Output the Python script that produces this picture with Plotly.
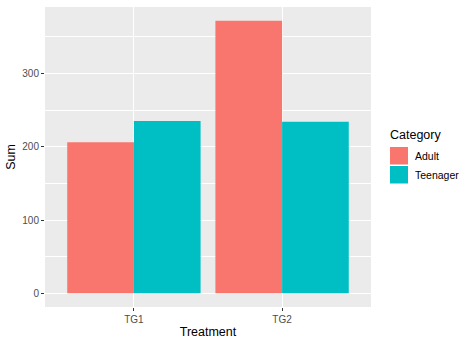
import plotly.graph_objects as go

treatments = ["TG1", "TG2"]
categories = ["Adult", "Teenager"]
adult_sum = [206, 372]
teen_sum = [235, 234]
colors = {"Adult": "#F8766D", "Teenager": "#00BFC4"}
y_ticks = [0, 100, 200, 300]

W, H = 474, 343
ML, MR, MT, MB = 45, 103, 7, 36
PW, PH = W - ML - MR, H - MT - MB

fig = go.Figure()
for cat, vals in zip(categories, [adult_sum, teen_sum]):
    fig.add_trace(go.Bar(x=treatments, y=vals, name=cat,
                         marker=dict(color=colors[cat], line=dict(width=0)),
                         showlegend=False))

ymax = max(adult_sum + teen_sum)
pad = ymax * 0.05
fig.update_layout(
    width=W, height=H,
    margin=dict(l=ML, r=MR, t=MT, b=MB, pad=0),
    paper_bgcolor="white", plot_bgcolor="#EBEBEB",
    barmode="group", bargap=0.1, bargroupgap=0,
    font=dict(family="Liberation Sans, Arial, sans-serif", color="black"),
    xaxis=dict(range=[-0.6, 1.6], showgrid=True, gridcolor="white", gridwidth=1.1,
               ticks="outside", ticklen=3, tickcolor="#333333", tickwidth=1,
               tickfont=dict(size=10, color="#4D4D4D"), zeroline=False, showline=False,
               title=dict(text="Treatment", font=dict(size=12.5), standoff=3)),
    yaxis=dict(range=[-pad, ymax + pad], tickvals=y_ticks, showgrid=True,
               gridcolor="white", gridwidth=1.1,
               minor=dict(dtick=50, tick0=0, showgrid=True, gridcolor="white", gridwidth=0.5, ticks=""),
               ticks="outside", ticklen=3, tickcolor="#333333", tickwidth=1,
               tickfont=dict(size=10, color="#4D4D4D"), zeroline=False, showline=False,
               title=dict(text="Sum", font=dict(size=12.5), standoff=3)),
)

# custom ggplot-style legend
def px_x(px):
    return (px - ML) / PW

def px_y(py):
    return 1 - (py - MT) / PH

fig.add_annotation(xref="paper", yref="paper", x=px_x(388), y=px_y(135), text="Category",
                   showarrow=False, xanchor="left", yanchor="middle",
                   font=dict(size=12.5, color="black"))
for i, cat in enumerate(categories):
    top = 147 + i * 19
    fig.add_shape(type="rect", xref="paper", yref="paper",
                  x0=px_x(390), x1=px_x(408), y0=px_y(top), y1=px_y(top + 17.5),
                  fillcolor=colors[cat], line=dict(width=0))
    fig.add_annotation(xref="paper", yref="paper", x=px_x(413), y=px_y(top + 9), text=cat,
                       showarrow=False, xanchor="left", yanchor="middle",
                       font=dict(size=10.5, color="black"))

fig.write_html("out.html")
